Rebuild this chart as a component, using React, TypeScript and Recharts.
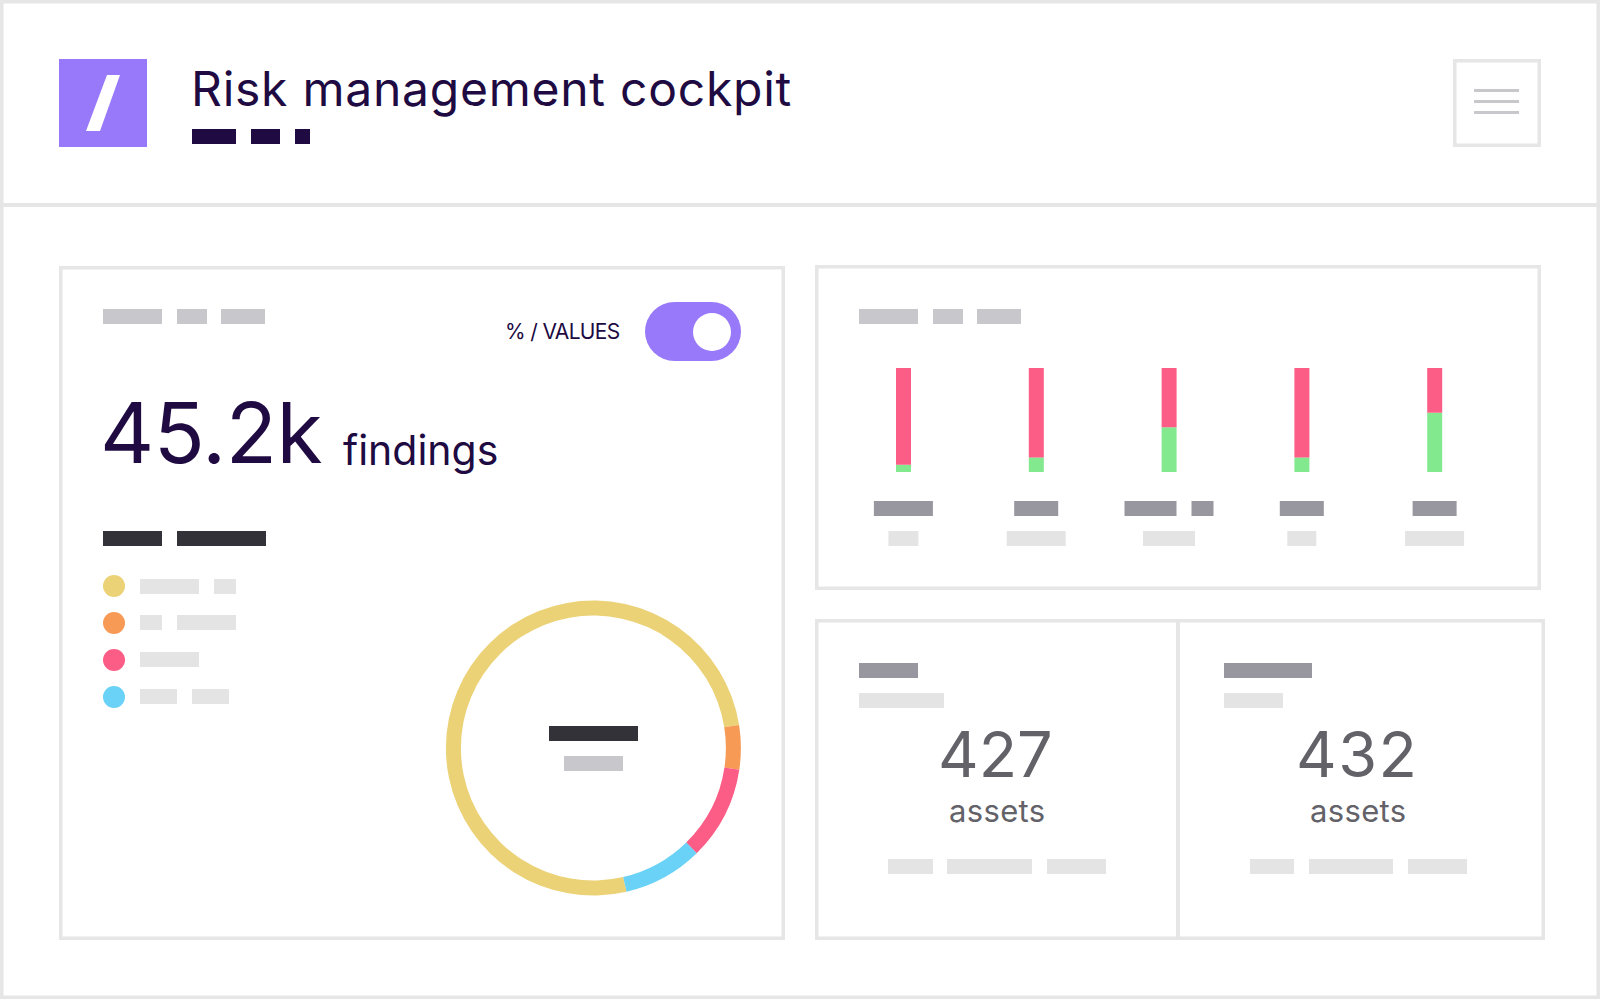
import React from 'react';
import { BarChart, Bar, XAxis, YAxis, PieChart, Pie, Cell } from 'recharts';

// findings split shown in the donut, legend order
const findingLevels = ['Low', 'Medium', 'High', 'Critical'];
const findingCounts = [34400, 2200, 4650, 3950];
const findingColors = ['#ebd277', '#f79a56', '#fb5d86', '#69d2f6'];

// share of each group, in percent
const groups = ['Group A', 'Group B', 'Group C', 'Group D', 'Group E'];
const fixedShare = [7, 14, 43, 14, 57];
const openShare = [93, 86, 57, 86, 43];

const PURPLE = '#9879f9';
const INK = '#200a42';
const BORDER = '#e6e6e6';
const DARK = '#333238';
const MID = '#98969f';
const SOFT = '#c8c8cc';
const PALE = '#e4e4e5';

// redacted label widths under each bar: [top row pieces, bottom row]
const tickTop = [[59], [44], [52, 22], [44], [44]];
const tickBottom = [30, 59, 52, 29, 59];

const pieData = findingLevels.map((name, i) => ({ name, value: findingCounts[i] }));
const barData = groups.map((name, i) => ({ name, fixed: fixedShare[i], open: openShare[i] }));

const font = 'Inter, sans-serif';

function Block({ x, y, w, h = 15, c }: { x: number; y: number; w: number; h?: number; c: string }) {
  return <div style={{ position: 'absolute', left: x, top: y, width: w, height: h, background: c }} />;
}

function Frame({ x, y, w, h }: { x: number; y: number; w: number; h: number }) {
  return (
    <div
      style={{
        position: 'absolute',
        left: x,
        top: y,
        width: w,
        height: h,
        boxShadow: `inset 0 0 0 3.5px ${BORDER}`,
      }}
    />
  );
}

function Label({ x, base, size, color, children, spacing = 0 }: any) {
  // base is the text baseline, line box is set so it lands there
  return (
    <div
      style={{
        position: 'absolute',
        left: x,
        top: base - size,
        fontFamily: font,
        fontSize: size,
        lineHeight: `${size * 1.25}px`,
        color,
        letterSpacing: spacing,
        whiteSpace: 'nowrap',
      }}
    >
      {children}
    </div>
  );
}

const RedactedTick = ({ x, y, index }: any) => {
  const pieces = tickTop[index];
  const total = pieces.reduce((a, b) => a + b, 0) + (pieces.length - 1) * 15;
  let left = x - total / 2;
  return (
    <g>
      {pieces.map((w, i) => {
        const r = <rect key={i} x={left} y={y + 29} width={w} height={15} fill={MID} />;
        left += w + 15;
        return r;
      })}
      <rect x={x - tickBottom[index] / 2} y={y + 59} width={tickBottom[index]} height={15} fill={PALE} />
    </g>
  );
};

export default function App() {
  return (
    <div
      style={{
        position: 'absolute',
        left: 0,
        top: 0,
        width: 1600,
        height: 999,
        background: '#fff',
        overflow: 'hidden',
      }}
    >
      <Frame x={0} y={0} w={1600} h={999} />
      <Block x={0} y={203} w={1600} h={3.5} c={BORDER} />

      {/* header */}
      <div style={{ position: 'absolute', left: 59, top: 59, width: 88, height: 88, background: PURPLE }} />
      <svg style={{ position: 'absolute', left: 59, top: 59 }} width={88} height={88}>
        <polygon points="48,16 61,16 41,72 27,72" fill="#fff" />
      </svg>
      <Label x={191} base={107} size={48} color={INK} spacing={0.75}>
        Risk management cockpit
      </Label>
      <Block x={191.5} y={129} w={44.5} c={INK} />
      <Block x={251} y={129} w={29} c={INK} />
      <Block x={295} y={129} w={15} c={INK} />
      <Frame x={1453} y={59} w={88} h={88} />
      <Block x={1474} y={89} w={45} h={3} c={SOFT} />
      <Block x={1474} y={100} w={45} h={3} c={SOFT} />
      <Block x={1474} y={111} w={45} h={3} c={SOFT} />

      {/* findings card */}
      <Frame x={59} y={265.5} w={726} h={674.5} />
      <Block x={103} y={309} w={59} c={SOFT} />
      <Block x={177} y={309} w={30} c={SOFT} />
      <Block x={221} y={309} w={44} c={SOFT} />
      <Label x={505} base={340} size={21} color={INK} spacing={-0.65}>
        % / VALUES
      </Label>
      <div style={{ position: 'absolute', left: 645, top: 302, width: 96, height: 59, borderRadius: 30, background: PURPLE }} />
      <div style={{ position: 'absolute', left: 693, top: 313, width: 38, height: 38, borderRadius: 19, background: '#fff' }} />
      <Label x={100} base={464} size={84} color={INK} spacing={-0.5}>
        45.2k
      </Label>
      <Label x={343} base={466} size={41} color={INK}>
        findings
      </Label>
      <Block x={103} y={531} w={59} c={DARK} />
      <Block x={177} y={531} w={88.5} c={DARK} />
      {findingColors.map((c, i) => (
        <div
          key={c}
          style={{
            position: 'absolute',
            left: 103,
            top: [575, 612, 649, 686][i],
            width: 22,
            height: 22,
            borderRadius: 11,
            background: c,
          }}
        />
      ))}
      <Block x={140} y={579} w={59} c={PALE} />
      <Block x={214} y={579} w={22} c={PALE} />
      <Block x={140} y={615} w={22} c={PALE} />
      <Block x={177} y={615} w={59} c={PALE} />
      <Block x={140} y={652} w={59} c={PALE} />
      <Block x={140} y={689} w={37} c={PALE} />
      <Block x={192} y={689} w={37} c={PALE} />

      <div style={{ position: 'absolute', left: 443, top: 598 }}>
        <PieChart width={300} height={300} margin={{ top: 0, right: 0, bottom: 0, left: 0 }}>
          <Pie
            data={pieData}
            dataKey="value"
            nameKey="name"
            cx={150.4}
            cy={150}
            innerRadius={132.5}
            outerRadius={147.5}
            startAngle={-77}
            endAngle={-437}
            stroke="none"
            isAnimationActive={false}
          >
            {findingColors.map(c => (
              <Cell key={c} fill={c} />
            ))}
          </Pie>
        </PieChart>
      </div>
      <Block x={549} y={726} w={89} c={DARK} />
      <Block x={564} y={755.5} w={59} c={SOFT} />

      {/* share per group card */}
      <Frame x={815} y={265} w={726} h={325} />
      <Block x={859} y={309} w={59} c={SOFT} />
      <Block x={933} y={309} w={30} c={SOFT} />
      <Block x={977} y={309} w={44} c={SOFT} />
      <div style={{ position: 'absolute', left: 836, top: 368 }}>
        <BarChart
          width={666}
          height={184}
          data={barData}
          margin={{ top: 0, right: 1, bottom: 0, left: 1 }}
          barSize={15}
        >
          <XAxis
            dataKey="name"
            height={80}
            axisLine={false}
            tickLine={false}
            tickSize={0}
            tickMargin={0}
            interval={0}
            tick={<RedactedTick />}
          />
          <YAxis hide domain={[0, 100]} />
          <Bar dataKey="fixed" stackId="share" fill="#83e98f" isAnimationActive={false} />
          <Bar dataKey="open" stackId="share" fill="#fb5d86" isAnimationActive={false} />
        </BarChart>
      </div>

      {/* asset cards */}
      <Frame x={815} y={619} w={730} h={321} />
      <Block x={1176} y={619} w={3.5} h={321} c={BORDER} />
      <Block x={859} y={663} w={59} c={MID} />
      <Block x={859} y={693} w={85} c={PALE} />
      <Block x={1224} y={663} w={88} c={MID} />
      <Block x={1224} y={693} w={59} c={PALE} />
      <Label x={938} base={778} size={63} color="#636269">
        427
      </Label>
      <Label x={1296} base={778} size={63} color="#636269" spacing={1.5}>
        432
      </Label>
      <Label x={949} base={823} size={31} color="#636269" spacing={0.35}>
        assets
      </Label>
      <Label x={1310} base={823} size={31} color="#636269" spacing={0.35}>
        assets
      </Label>
      <Block x={888} y={859} w={45} c={PALE} />
      <Block x={947} y={859} w={85} c={PALE} />
      <Block x={1047} y={859} w={59} c={PALE} />
      <Block x={1250} y={859} w={44} c={PALE} />
      <Block x={1309} y={859} w={84} c={PALE} />
      <Block x={1408} y={859} w={59} c={PALE} />
    </div>
  );
}
